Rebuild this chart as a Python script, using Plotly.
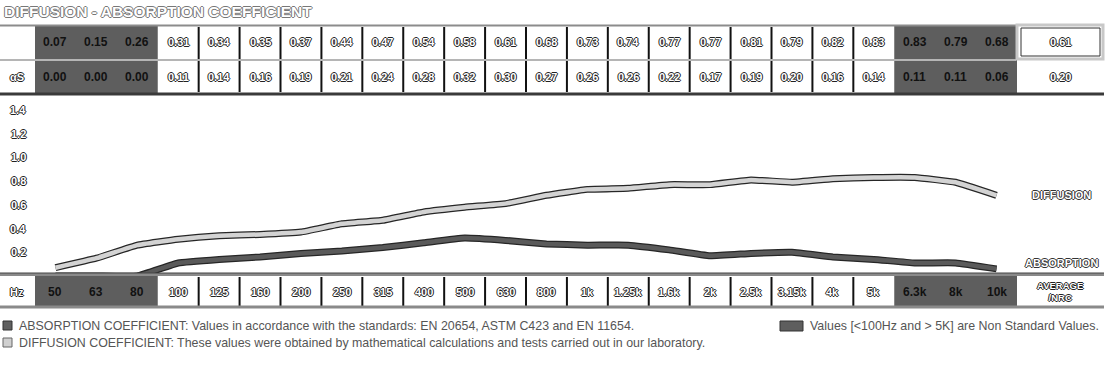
import plotly.graph_objects as go

# ---------------- data ----------------
freqs = ["50", "63", "80", "100", "125", "160", "200", "250", "315", "400", "500", "630",
         "800", "1k", "1.25k", "1.6k", "2k", "2.5k", "3.15k", "4k", "5k", "6.3k", "8k", "10k"]
diffusion = [0.07, 0.15, 0.26, 0.31, 0.34, 0.35, 0.37, 0.44, 0.47, 0.54, 0.58, 0.61,
             0.68, 0.73, 0.74, 0.77, 0.77, 0.81, 0.79, 0.82, 0.83, 0.83, 0.79, 0.68]
absorption = [0.00, 0.00, 0.00, 0.11, 0.14, 0.16, 0.19, 0.21, 0.24, 0.28, 0.32, 0.30,
              0.27, 0.26, 0.26, 0.22, 0.17, 0.19, 0.20, 0.16, 0.14, 0.11, 0.11, 0.06]
diffusion_avg = 0.61
absorption_avg = 0.20
non_standard = ["50", "63", "80", "6.3k", "8k", "10k"]
y_ticks = [0.2, 0.4, 0.6, 0.8, 1.0, 1.2, 1.4]

title_text = "DIFFUSION - ABSORPTION COEFFICIENT"
legend_abs = "ABSORPTION COEFFICIENT: Values in accordance with the standards: EN 20654, ASTM C423 and EN 11654."
legend_dif = "DIFFUSION COEFFICIENT: These values were obtained by mathematical calculations and tests carried out in our laboratory."
legend_ns = "Values [<100Hz and > 5K] are Non Standard Values."

# ---------------- geometry / style ----------------
W, H = 1110, 373
COL_L, COL_R = 35, 1017


def px(x):
    return x / W


def py(y):
    return 1 - y / H


DARK = "#5e5e5e"
FAM = "Liberation Sans, Arial, sans-serif"
NARROW = "Liberation Sans Narrow, Arial Narrow, Liberation Sans, sans-serif"


def outline(size, edge="#222", fam=FAM):
    return dict(family=fam, size=size, color="white", weight="bold",
                shadow=f"1px 0 0 {edge}, -1px 0 0 {edge}, 0 1px 0 {edge}, 0 -1px 0 {edge}")


BOLD_DARK = dict(family=FAM, size=12, color="#111", weight="bold")

fig = go.Figure()

# lines (outline underneath, fill on top)
for vals, col in [(diffusion, "#d3d3d3"), (absorption, "#5a5a5a")]:
    fig.add_trace(go.Scatter(x=freqs, y=vals, mode="lines", cliponaxis=False,
                             line=dict(color="#262626", width=7, shape="spline", smoothing=0.3),
                             hoverinfo="skip", showlegend=False))
    fig.add_trace(go.Scatter(x=freqs, y=vals, mode="lines", cliponaxis=False,
                             line=dict(color=col, width=4.5, shape="spline", smoothing=0.3),
                             showlegend=False))

shapes = []
ann = []


def hline(y, x0, x1, color, width, dash="solid"):
    shapes.append(dict(type="line", xref="paper", yref="paper", x0=px(x0), x1=px(x1),
                       y0=py(y), y1=py(y), line=dict(color=color, width=width, dash=dash), layer="above"))


def label(x, y, text, font, xref="paper", yref="paper", xanchor="center"):
    ann.append(dict(x=x, y=y, xref=xref, yref=yref, text=text, showarrow=False,
                    xanchor=xanchor, yanchor="middle", font=font))


n = len(freqs)
ns_idx = [i for i, f in enumerate(freqs) if f in non_standard]
blocks = []
for i in ns_idx:
    if blocks and blocks[-1][1] == i - 1:
        blocks[-1][1] = i
    else:
        blocks.append([i, i])

for a, b in blocks:
    for (t, btm) in [(26, 93), (276, 306)]:
        shapes.append(dict(type="rect", xref="x", yref="paper", x0=a - 0.5, x1=b + 0.5,
                           y0=py(btm), y1=py(t), fillcolor=DARK, line=dict(width=0), layer="below"))

# vertical separators between standard cells
for i in range(n - 1):
    f, g = freqs[i], freqs[i + 1]
    if (f in non_standard) or (g in non_standard):
        continue
    for (t, btm) in [(27, 92), (277, 306)]:
        shapes.append(dict(type="line", xref="x", yref="paper", x0=i + 0.5, x1=i + 0.5,
                           y0=py(btm), y1=py(t), line=dict(color="#111", width=2), layer="above"))

# horizontal rules
hline(25.5, 0, 1016, "#8c8c8c", 2)
hline(60, 0, 1016, "#b5b5b5", 2)
hline(94, 0, 1104, "#3a3a3a", 3)
hline(274.5, 0, 1104, "#8a8a8a", 3)
hline(273, 0, 1104, "#444", 1)
hline(307, 0, 1104, "#8a8a8a", 3)

# average cell (row 1)
shapes.append(dict(type="rect", xref="paper", yref="paper", x0=px(1017), x1=px(1103),
                   y0=py(59), y1=py(25), fillcolor="white", line=dict(color="#c8c8c8", width=3)))
shapes.append(dict(type="rect", xref="paper", yref="paper", x0=px(1021), x1=px(1100),
                   y0=py(56), y1=py(28), line=dict(color="#333", width=1)))

# table values
for i, f in enumerate(freqs):
    font = BOLD_DARK if f in non_standard else outline(11)
    label(i, py(42), f"{diffusion[i]:.2f}", font, xref="x")
    label(i, py(77), f"{absorption[i]:.2f}", font, xref="x")
    label(i, py(291.5), f, font, xref="x")

label(px(1060), py(42), f"{diffusion_avg:.2f}", outline(11))
label(px(1060), py(77), f"{absorption_avg:.2f}", outline(11))
label(px(1060), py(291.5), "AVERAGE<br>/NRC", outline(9.5))
label(px(17), py(77), "αS", outline(11))
label(px(17), py(291.5), "Hz", outline(11))

# y tick labels
for v in y_ticks:
    label(px(28), v, f"{v:.1f}", outline(11), yref="y", xanchor="right")

# series labels
label(px(1061), py(195), "DIFFUSION", outline(11, "#333", NARROW))
label(px(1061), py(263), "ABSORPTION", outline(11, "#333", NARROW))

# title
label(px(2), py(11), title_text, outline(15.5, "#777", NARROW), xanchor="left")

# footnote legend
shapes.append(dict(type="rect", xref="paper", yref="paper", x0=px(3), x1=px(12),
                   y0=py(330), y1=py(321), fillcolor="#606060", line=dict(color="#333", width=1)))
shapes.append(dict(type="rect", xref="paper", yref="paper", x0=px(3), x1=px(12),
                   y0=py(347), y1=py(338), fillcolor="#d0d0d0", line=dict(color="#666", width=1)))
shapes.append(dict(type="rect", xref="paper", yref="paper", x0=px(780), x1=px(803),
                   y0=py(331), y1=py(321), fillcolor=DARK, line=dict(color="#333", width=1)))
LEG = dict(family=FAM, size=12.4, color="#555")
label(px(17), py(326), legend_abs, LEG, xanchor="left")
label(px(17), py(343), legend_dif, LEG, xanchor="left")
label(px(808), py(326), legend_ns, LEG, xanchor="left")

fig.update_layout(
    width=W, height=H, margin=dict(l=0, r=0, t=0, b=0),
    paper_bgcolor="white", plot_bgcolor="white",
    showlegend=False,
    xaxis=dict(type="category", domain=[px(COL_L), px(COL_R)], range=[-0.5, n - 0.5],
               showgrid=False, zeroline=False, showline=False, showticklabels=False, ticks=""),
    yaxis=dict(domain=[py(276), py(98)], range=[0, 1.5], showgrid=False, zeroline=False,
               showline=False, showticklabels=False, ticks=""),
    shapes=shapes, annotations=ann,
)

fig.write_html("out.html", config={"displayModeBar": False},
               post_script="document.body.style.margin='0px';")
